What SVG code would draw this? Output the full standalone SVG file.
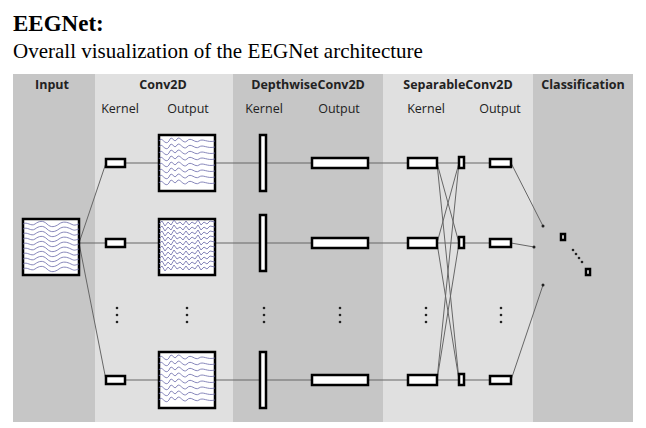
<svg xmlns="http://www.w3.org/2000/svg" width="646" height="428" viewBox="0 0 646 428">
<defs>
<style>
.t{font-family:"Open Sans","DejaVu Sans",sans-serif;font-size:12.5px;fill:#222;text-anchor:middle}
.h{font-weight:bold}
.b{fill:#fff;stroke:#000;stroke-width:2.5}
.c{stroke:#666;stroke-width:1;fill:none}
.w{fill:none;stroke:#6a6aaa;stroke-width:0.8}
.d{fill:#222}
</style>
<path id="wv" class="w" d="M0,0 c4,-3 8,3 12,0 s8,-4 12,0 s8,3 12,0 s8,-2 12,0 s4,1 8,0"/>
<path id="wv2" class="w" d="M0,0 c3,-6 6,6 10,0 c3,-8 5,4 8,-2 c3,-4 6,6 10,2 c4,-5 8,3 12,0 c4,-3 8,2 16,0"/>
<path id="wv3" class="w" d="M0,0 l3,-3 l3,5 l3,-4 l3,3 l3,-5 l3,4 l3,-2 l3,3 l3,-4 l3,4 l3,-3 l3,2 l3,-4 l3,5 l3,-3 l3,2 l3,-3 l5,1"/>
<g id="wbox">
<use href="#wv2" x="0" y="6"/><use href="#wv2" x="0" y="12"/><use href="#wv2" x="0" y="18"/><use href="#wv2" x="0" y="24"/><use href="#wv2" x="0" y="30"/><use href="#wv2" x="0" y="36"/><use href="#wv2" x="0" y="42"/><use href="#wv2" x="0" y="48"/>
</g>
</defs>
<rect width="646" height="428" fill="#fff"/>
<text x="13" y="31" font-family="Liberation Serif,serif" font-size="23" font-weight="bold">EEGNet:</text>
<text x="13" y="58" font-family="Liberation Serif,serif" font-size="21">Overall visualization of the EEGNet architecture</text>
<rect x="13" y="74" width="82" height="348" fill="#c6c6c6"/>
<rect x="95" y="74" width="138" height="348" fill="#e0e0e0"/>
<rect x="233" y="74" width="150" height="348" fill="#c6c6c6"/>
<rect x="383" y="74" width="150" height="348" fill="#e0e0e0"/>
<rect x="533" y="74" width="100" height="348" fill="#c6c6c6"/>
<g class="t">
<text class="h" x="52" y="89">Input</text>
<text class="h" x="163" y="89">Conv2D</text>
<text class="h" x="308" y="89">DepthwiseConv2D</text>
<text class="h" x="458" y="89">SeparableConv2D</text>
<text class="h" x="583" y="89">Classification</text>
<text x="120" y="113">Kernel</text><text x="188" y="113">Output</text>
<text x="264" y="113">Kernel</text><text x="339" y="113">Output</text>
<text x="426" y="113">Kernel</text><text x="500" y="113">Output</text>
</g>
<g id="connectors">
<path class="c" d="M79,243 L106,163 M79,243 L106,243 M79,243 L106,380"/>
<path class="c" d="M125,163H159 M215,163H312 M368,163H408 M437,163H459 M464,163H490"/>
<path class="c" d="M125,243H159 M215,243H312 M368,243H408 M437,243H459 M464,243H490"/>
<path class="c" d="M125,380H159 M215,380H312 M368,380H408 M437,380H459 M464,380H490"/>
<path class="c" d="M437,163L459,243 M437,163L459,380 M437,243L459,163 M437,243L459,380 M437,380L459,163 M437,380L459,243"/>
<path class="c" d="M511,163L543,226 M511,243L534,247 M511,380L543,285"/>
</g>
<g id="input"><rect class="b" x="23" y="219" width="56" height="56"/>
<g transform="translate(23,219)"><use href="#wv" y="5"/><use href="#wv" y="10"/><use href="#wv" y="15"/><use href="#wv" y="20"/><use href="#wv" y="25"/><use href="#wv" y="30"/><use href="#wv" y="35"/><use href="#wv" y="40"/><use href="#wv" y="45"/><use href="#wv" y="50"/></g></g>
<g id="conv2d">
<rect class="b" x="106" y="159" width="19" height="8"/><rect class="b" x="106" y="239" width="19" height="8"/><rect class="b" x="106" y="376" width="19" height="8"/>
<rect class="b" x="159" y="135" width="56" height="56"/><use href="#wbox" x="159" y="135"/>
<rect class="b" x="159" y="219" width="56" height="56"/>
<g transform="translate(159,219)"><use href="#wv3" y="5"/><use href="#wv3" y="10"/><use href="#wv3" y="15"/><use href="#wv3" y="20"/><use href="#wv3" y="25"/><use href="#wv3" y="30"/><use href="#wv3" y="35"/><use href="#wv3" y="40"/><use href="#wv3" y="45"/><use href="#wv3" y="50"/></g>
<rect class="b" x="159" y="352" width="56" height="56"/><use href="#wbox" x="159" y="352"/>
</g>
<g id="depthwise">
<rect class="b" x="260" y="135" width="6" height="56"/><rect class="b" x="260" y="215" width="6" height="56"/><rect class="b" x="260" y="352" width="6" height="56"/>
<rect class="b" x="312" y="158" width="56" height="10"/><rect class="b" x="312" y="238" width="56" height="10"/><rect class="b" x="312" y="375" width="56" height="10"/>
</g>
<g id="separable">
<rect class="b" x="408" y="158" width="29" height="10"/><rect class="b" x="408" y="238" width="29" height="10"/><rect class="b" x="408" y="375" width="29" height="10"/>
<rect class="b" x="459" y="157" width="5" height="11"/><rect class="b" x="459" y="237" width="5" height="11"/><rect class="b" x="459" y="374" width="5" height="11"/>
<rect class="b" x="490" y="159" width="21" height="8"/><rect class="b" x="490" y="239" width="21" height="8"/><rect class="b" x="490" y="376" width="21" height="8"/>
</g>
<g id="classification">
<circle class="d" cx="543" cy="226" r="1.5"/><circle class="d" cx="534" cy="247" r="1.5"/><circle class="d" cx="543" cy="285" r="1.5"/>
<rect class="b" x="561" y="234" width="4" height="6" stroke-width="2"/><rect class="b" x="586" y="269" width="4" height="6" stroke-width="2"/>
<circle class="d" cx="573" cy="250" r="1.3"/><circle class="d" cx="576" cy="254" r="1.3"/><circle class="d" cx="579" cy="258" r="1.3"/><circle class="d" cx="582" cy="262" r="1.3"/>
</g>
<g id="vdots" class="d">
<circle cx="117" cy="308" r="1.3"/><circle cx="117" cy="315" r="1.3"/><circle cx="117" cy="322" r="1.3"/>
<circle cx="187" cy="308" r="1.3"/><circle cx="187" cy="315" r="1.3"/><circle cx="187" cy="322" r="1.3"/>
<circle cx="264" cy="308" r="1.3"/><circle cx="264" cy="315" r="1.3"/><circle cx="264" cy="322" r="1.3"/>
<circle cx="340" cy="308" r="1.3"/><circle cx="340" cy="315" r="1.3"/><circle cx="340" cy="322" r="1.3"/>
<circle cx="426" cy="308" r="1.3"/><circle cx="426" cy="315" r="1.3"/><circle cx="426" cy="322" r="1.3"/>
<circle cx="501" cy="308" r="1.3"/><circle cx="501" cy="315" r="1.3"/><circle cx="501" cy="322" r="1.3"/>
</g>
</svg>
